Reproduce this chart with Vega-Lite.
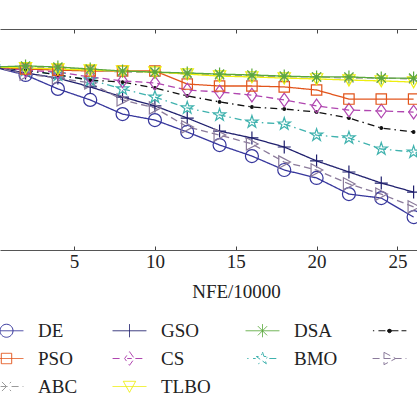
{
  "$schema": "https://vega.github.io/schema/vega-lite/v6.json",
  "width": 417,
  "height": 221,
  "autosize": {"type": "none"},
  "padding": {"top": 29, "left": 0, "right": 0, "bottom": 167},
  "config": {"view": {"stroke": null}, "font": "Liberation Serif"},
  "data": {
    "values": [
      {"alg": "DE", "nfe": 0, "f": 82.8}, {"alg": "DE", "nfe": 2, "f": 79.2}, {"alg": "DE", "nfe": 4, "f": 72.9}, {"alg": "DE", "nfe": 6, "f": 67.9}, {"alg": "DE", "nfe": 8, "f": 61.5}, {"alg": "DE", "nfe": 10, "f": 58.8}, {"alg": "DE", "nfe": 12, "f": 53.4}, {"alg": "DE", "nfe": 14, "f": 47.5}, {"alg": "DE", "nfe": 16, "f": 42.5}, {"alg": "DE", "nfe": 18, "f": 36.2}, {"alg": "DE", "nfe": 20, "f": 32.6}, {"alg": "DE", "nfe": 22, "f": 25.3}, {"alg": "DE", "nfe": 24, "f": 23.5}, {"alg": "DE", "nfe": 26, "f": 14.9},
      {"alg": "GSO", "nfe": 0, "f": 82.8}, {"alg": "GSO", "nfe": 2, "f": 80.1}, {"alg": "GSO", "nfe": 4, "f": 77.8}, {"alg": "GSO", "nfe": 6, "f": 73.8}, {"alg": "GSO", "nfe": 8, "f": 69.2}, {"alg": "GSO", "nfe": 10, "f": 65.2}, {"alg": "GSO", "nfe": 12, "f": 59.7}, {"alg": "GSO", "nfe": 14, "f": 53.8}, {"alg": "GSO", "nfe": 16, "f": 50.7}, {"alg": "GSO", "nfe": 18, "f": 46.6}, {"alg": "GSO", "nfe": 20, "f": 40.3}, {"alg": "GSO", "nfe": 22, "f": 35.3}, {"alg": "GSO", "nfe": 24, "f": 30.3}, {"alg": "GSO", "nfe": 26, "f": 26.2},
      {"alg": "IBMO", "nfe": 0, "f": 82.8}, {"alg": "IBMO", "nfe": 2, "f": 79.6}, {"alg": "IBMO", "nfe": 4, "f": 77.8}, {"alg": "IBMO", "nfe": 6, "f": 75.6}, {"alg": "IBMO", "nfe": 8, "f": 67.9}, {"alg": "IBMO", "nfe": 10, "f": 64.3}, {"alg": "IBMO", "nfe": 12, "f": 55.7}, {"alg": "IBMO", "nfe": 14, "f": 52.0}, {"alg": "IBMO", "nfe": 16, "f": 48.0}, {"alg": "IBMO", "nfe": 18, "f": 39.8}, {"alg": "IBMO", "nfe": 20, "f": 36.2}, {"alg": "IBMO", "nfe": 22, "f": 29.9}, {"alg": "IBMO", "nfe": 24, "f": 25.3}, {"alg": "IBMO", "nfe": 26, "f": 19.5},
      {"alg": "BMO", "nfe": 0, "f": 82.8}, {"alg": "BMO", "nfe": 2, "f": 81.4}, {"alg": "BMO", "nfe": 4, "f": 79.2}, {"alg": "BMO", "nfe": 6, "f": 76.9}, {"alg": "BMO", "nfe": 8, "f": 72.9}, {"alg": "BMO", "nfe": 10, "f": 69.2}, {"alg": "BMO", "nfe": 12, "f": 64.3}, {"alg": "BMO", "nfe": 14, "f": 61.1}, {"alg": "BMO", "nfe": 16, "f": 57.9}, {"alg": "BMO", "nfe": 18, "f": 57.0}, {"alg": "BMO", "nfe": 20, "f": 52.0}, {"alg": "BMO", "nfe": 22, "f": 50.7}, {"alg": "BMO", "nfe": 24, "f": 45.7}, {"alg": "BMO", "nfe": 26, "f": 44.3},
      {"alg": "GWO", "nfe": 0, "f": 82.8}, {"alg": "GWO", "nfe": 2, "f": 81.4}, {"alg": "GWO", "nfe": 4, "f": 79.2}, {"alg": "GWO", "nfe": 6, "f": 76.9}, {"alg": "GWO", "nfe": 8, "f": 76.0}, {"alg": "GWO", "nfe": 10, "f": 73.3}, {"alg": "GWO", "nfe": 12, "f": 69.7}, {"alg": "GWO", "nfe": 14, "f": 67.0}, {"alg": "GWO", "nfe": 16, "f": 64.7}, {"alg": "GWO", "nfe": 18, "f": 63.8}, {"alg": "GWO", "nfe": 20, "f": 62.4}, {"alg": "GWO", "nfe": 22, "f": 59.7}, {"alg": "GWO", "nfe": 24, "f": 55.2}, {"alg": "GWO", "nfe": 26, "f": 53.4},
      {"alg": "CS", "nfe": 0, "f": 82.8}, {"alg": "CS", "nfe": 2, "f": 81.4}, {"alg": "CS", "nfe": 4, "f": 80.5}, {"alg": "CS", "nfe": 6, "f": 78.3}, {"alg": "CS", "nfe": 8, "f": 76.5}, {"alg": "CS", "nfe": 10, "f": 75.6}, {"alg": "CS", "nfe": 12, "f": 72.4}, {"alg": "CS", "nfe": 14, "f": 71.5}, {"alg": "CS", "nfe": 16, "f": 70.1}, {"alg": "CS", "nfe": 18, "f": 67.9}, {"alg": "CS", "nfe": 20, "f": 65.2}, {"alg": "CS", "nfe": 22, "f": 63.3}, {"alg": "CS", "nfe": 24, "f": 62.9}, {"alg": "CS", "nfe": 26, "f": 62.4},
      {"alg": "PSO", "nfe": 0, "f": 82.8}, {"alg": "PSO", "nfe": 2, "f": 81.9}, {"alg": "PSO", "nfe": 4, "f": 81.4}, {"alg": "PSO", "nfe": 6, "f": 81.0}, {"alg": "PSO", "nfe": 8, "f": 81.0}, {"alg": "PSO", "nfe": 10, "f": 81.0}, {"alg": "PSO", "nfe": 12, "f": 75.1}, {"alg": "PSO", "nfe": 14, "f": 74.2}, {"alg": "PSO", "nfe": 16, "f": 74.2}, {"alg": "PSO", "nfe": 18, "f": 73.8}, {"alg": "PSO", "nfe": 20, "f": 72.4}, {"alg": "PSO", "nfe": 22, "f": 68.3}, {"alg": "PSO", "nfe": 24, "f": 68.3}, {"alg": "PSO", "nfe": 26, "f": 68.3},
      {"alg": "ABC", "nfe": 0, "f": 82.8}, {"alg": "ABC", "nfe": 2, "f": 82.8}, {"alg": "ABC", "nfe": 4, "f": 82.4}, {"alg": "ABC", "nfe": 6, "f": 81.4}, {"alg": "ABC", "nfe": 8, "f": 80.5}, {"alg": "ABC", "nfe": 10, "f": 80.5}, {"alg": "ABC", "nfe": 12, "f": 79.6}, {"alg": "ABC", "nfe": 14, "f": 79.2}, {"alg": "ABC", "nfe": 16, "f": 78.7}, {"alg": "ABC", "nfe": 18, "f": 78.3}, {"alg": "ABC", "nfe": 20, "f": 78.3}, {"alg": "ABC", "nfe": 22, "f": 77.8}, {"alg": "ABC", "nfe": 24, "f": 77.8}, {"alg": "ABC", "nfe": 26, "f": 77.4},
      {"alg": "TLBO", "nfe": 0, "f": 82.8}, {"alg": "TLBO", "nfe": 2, "f": 82.4}, {"alg": "TLBO", "nfe": 4, "f": 81.9}, {"alg": "TLBO", "nfe": 6, "f": 81.4}, {"alg": "TLBO", "nfe": 8, "f": 81.0}, {"alg": "TLBO", "nfe": 10, "f": 80.5}, {"alg": "TLBO", "nfe": 12, "f": 79.6}, {"alg": "TLBO", "nfe": 14, "f": 78.7}, {"alg": "TLBO", "nfe": 16, "f": 78.3}, {"alg": "TLBO", "nfe": 18, "f": 77.8}, {"alg": "TLBO", "nfe": 20, "f": 77.4}, {"alg": "TLBO", "nfe": 22, "f": 76.9}, {"alg": "TLBO", "nfe": 24, "f": 76.5}, {"alg": "TLBO", "nfe": 26, "f": 76.0},
      {"alg": "DSA", "nfe": 0, "f": 82.8}, {"alg": "DSA", "nfe": 2, "f": 83.3}, {"alg": "DSA", "nfe": 4, "f": 82.8}, {"alg": "DSA", "nfe": 6, "f": 81.9}, {"alg": "DSA", "nfe": 8, "f": 81.0}, {"alg": "DSA", "nfe": 10, "f": 80.5}, {"alg": "DSA", "nfe": 12, "f": 80.1}, {"alg": "DSA", "nfe": 14, "f": 79.6}, {"alg": "DSA", "nfe": 16, "f": 79.2}, {"alg": "DSA", "nfe": 18, "f": 78.7}, {"alg": "DSA", "nfe": 20, "f": 78.3}, {"alg": "DSA", "nfe": 22, "f": 78.3}, {"alg": "DSA", "nfe": 24, "f": 77.8}, {"alg": "DSA", "nfe": 26, "f": 77.8}
    ]
  },
  "encoding": {
    "y": {"field": "f", "type": "quantitative", "scale": {"domain": [0, 100]}, "axis": null},
    "color": {
      "field": "alg",
      "type": "nominal",
      "scale": {
        "domain": ["DE", "GSO", "DSA", "GWO", "PSO", "CS", "BMO", "IBMO", "ABC", "TLBO"],
        "range": ["#36369c", "#20206e", "#5aa83c", "#111111", "#e2541b", "#b046b0", "#3fb2ae", "#8b7b9b", "#9a9a9a", "#eeee10"]
      },
      "legend": {
        "orient": "none",
        "direction": "horizontal",
        "legendX": -3,
        "legendY": 292,
        "columns": 4,
        "title": null,
        "padding": 0,
        "labelFont": "Liberation Serif",
        "labelFontSize": 19,
        "labelColor": "#222222",
        "labelLimit": 200,
        "symbolSize": 169,
        "symbolStrokeWidth": 1,
        "symbolOpacity": 1,
        "labelOffset": 22,
        "columnPadding": 32,
        "rowPadding": 8,
        "encode": {
          "symbols": {
            "update": {
              "shape": {"signal": "{'DE':'M-2.6,0H2.6M-1,0A1,1 0 1,0 1,0A1,1 0 1,0 -1,0','GSO':'M-2.6,0H2.6M0,-1V1','DSA':'M-2.6,0H2.6M0,-1V1M-0.7,-0.7L0.7,0.7M-0.7,0.7L0.7,-0.7','GWO':'M-2.55,0H-2.35M-1.7,0H-0.5M0.3,0H1.4M1.85,0H2.6M-0.3,0A0.3,0.3 0 1,0 0.3,0A0.3,0.3 0 1,0 -0.3,0','PSO':'M-2.6,0H2.6M-0.8,-0.8H0.8V0.8H-0.8Z','CS':'M-2.6,0H-0.9M-0.35,0H0.35M0.9,0H2.6M0,-1.05L0.75,0L0,1.05L-0.75,0Z','BMO':'M-2.35,0H-2.15M-1.45,0H-1.05M1.05,0H2.5M0,-1L0.225,-0.309L0.951,-0.309L0.363,0.118L0.588,0.809L0,0.382L-0.588,0.809L-0.363,0.118L-0.951,-0.309L-0.225,-0.309Z','IBMO':'M-2.6,0H2.6M-0.85,-0.95L0.95,0L-0.85,0.95Z','ABC':'M-2.6,0H2.6M-0.7,-0.7L0.7,0.7M-0.7,0.7L0.7,-0.7','TLBO':'M-2.6,0H2.6M-0.95,-0.8H0.95L0,0.9Z'}[datum.value]"},
              "fill": {"signal": "datum.value === 'GWO' ? '#111111' : 'transparent'"},
              "stroke": {"scale": "color", "field": "value"},
              "strokeDash": {"value": []},
              "strokeWidth": {"value": 1},
              "opacity": {"value": 1}
            }
          }
        }
      }
    }
  },
  "layer": [
    {
      "mark": {"type": "line", "clip": true, "strokeWidth": 1.3},
      "encoding": {
        "x": {
          "field": "nfe",
          "type": "quantitative",
          "scale": {"domain": [0.42, 26.21], "nice": false, "zero": false},
          "axis": {
            "orient": "bottom",
            "values": [5, 10, 15, 20, 25],
            "grid": false,
            "title": "NFE/10000",
            "titleFont": "Liberation Serif",
            "titleFontSize": 19,
            "titleFontWeight": "normal",
            "titleColor": "#222222",
            "titleX": 236,
            "titlePadding": 11,
            "labelFont": "Liberation Serif",
            "labelFontSize": 19,
            "labelColor": "#222222",
            "labelPadding": 6,
            "tickSize": -4,
            "tickColor": "#444444",
            "domainColor": "#555555",
            "domainWidth": 1.2
          }
        },
        "strokeDash": {
          "field": "alg",
          "type": "nominal",
          "scale": {
            "domain": ["DE", "GSO", "DSA", "GWO", "PSO", "CS", "BMO", "IBMO", "ABC", "TLBO"],
            "range": [[1, 0], [1, 0], [1, 0], [7, 4, 1.5, 4], [1, 0], [7, 4], [7, 4, 1.5, 4], [7, 4], [7, 4], [1, 0]]
          },
          "legend": null
        }
      }
    },
    {
      "mark": {
        "type": "point",
        "clip": true,
        "filled": false,
        "size": 169,
        "strokeWidth": 1.2,
        "opacity": 1,
        "shape": {"expr": "{'DE':'M-1,0A1,1 0 1,0 1,0A1,1 0 1,0 -1,0','GSO':'M-1,0H1M0,-1V1','DSA':'M-1,0H1M0,-1V1M-0.7,-0.7L0.7,0.7M-0.7,0.7L0.7,-0.7','GWO':'M-0.2,0A0.2,0.2 0 1,0 0.2,0A0.2,0.2 0 1,0 -0.2,0','PSO':'M-0.8,-0.8H0.8V0.8H-0.8Z','CS':'M0,-1.05L0.75,0L0,1.05L-0.75,0Z','BMO':'M0,-1L0.225,-0.309L0.951,-0.309L0.363,0.118L0.588,0.809L0,0.382L-0.588,0.809L-0.363,0.118L-0.951,-0.309L-0.225,-0.309Z','IBMO':'M-0.85,-0.95L0.95,0L-0.85,0.95Z','ABC':'M-0.7,-0.7L0.7,0.7M-0.7,0.7L0.7,-0.7','TLBO':'M-0.95,-0.8H0.95L0,0.9Z'}[datum.alg]"}
      },
      "encoding": {
        "x": {
          "field": "nfe",
          "type": "quantitative",
          "scale": {"domain": [0.42, 26.21], "nice": false, "zero": false},
          "axis": {
            "orient": "top",
            "values": [5, 10, 15, 20, 25],
            "grid": false,
            "labels": false,
            "title": null,
            "tickSize": -4,
            "tickColor": "#444444",
            "domainColor": "#555555",
            "domainWidth": 1.2
          }
        },
        "fill": {"condition": {"test": "datum.alg === 'GWO'", "value": "#111111"}, "value": "transparent"}
      }
    }
  ],
  "resolve": {"axis": {"x": "independent"}}
}
